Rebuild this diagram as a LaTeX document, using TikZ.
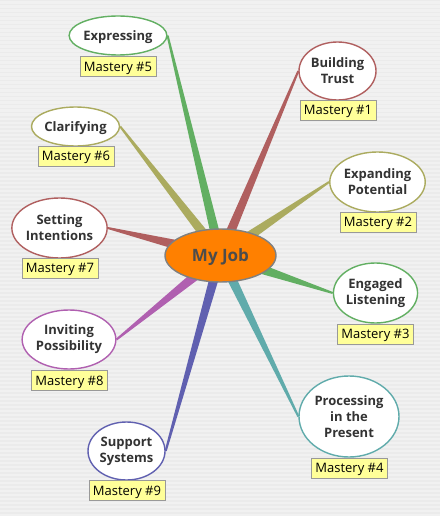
\documentclass[tikz,border=0pt]{standalone}
\usepackage{fontspec}
\setmainfont{Open Sans}
\usetikzlibrary{shapes.geometric,calc}
\definecolor{cRed}{HTML}{B05F5F}
\definecolor{cOlive}{HTML}{ABAB5F}
\definecolor{cGreen}{HTML}{62AF62}
\definecolor{cTeal}{HTML}{60ABAB}
\definecolor{cBlue}{HTML}{6060B0}
\definecolor{cPurple}{HTML}{B060B0}
\definecolor{cOrange}{HTML}{FF8000}
\definecolor{bgA}{HTML}{F1F1F1}
\definecolor{bgB}{HTML}{EBEBEB}
\definecolor{tagFill}{HTML}{FFFF99}
\pgfdeclarelayer{bg}
\pgfsetlayers{bg,main}
\tikzset{
  topic/.style={ellipse, draw=#1, line width=1.4pt, fill=white, inner sep=0pt,
    align=center, text=black!80, font=\fontsize{13}{16}\selectfont\bfseries},
  oneline/.style={text height=9.3pt, text depth=0pt},
  hub/.style={ellipse, draw=black!50, line width=1.4pt, fill=cOrange, inner sep=0pt,
    minimum width=111pt, minimum height=53pt, text=black!70,
    text height=12pt, text depth=0pt,
    font=\fontsize{17}{20}\selectfont\bfseries},
  tag/.style={rectangle, draw=black!40, line width=0.8pt, fill=tagFill, inner sep=0pt,
    minimum width=76pt, minimum height=20pt, text=black,
    text height=9.3pt, text depth=0pt,
    font=\fontsize{13}{15}\selectfont},
}
\begin{document}
\begin{tikzpicture}[x=1pt,y=-1pt]
\begin{pgfonlayer}{bg}
  \fill[bgA] (0,0) rectangle (440,516);
  \foreach \k in {0,4,...,512} \fill[bgB] (0,\k) rectangle (440,\k+1.5);
\end{pgfonlayer}
\useasboundingbox (0,0) rectangle (440,516);

\node[hub] (j) at (220.5,255.5) {My Job};

\node[topic=cRed, minimum width=77pt, minimum height=58pt] (c1) at (337.5,71) {Building\\Trust};
\node[tag] (t1) at (338,110) {Mastery \#1};
\node[topic=cOlive, minimum width=91pt, minimum height=60pt] (c2) at (377.5,182) {Expanding\\Potential};
\node[tag] (t2) at (378,222) {Mastery \#2};
\node[topic=cGreen, minimum width=83pt, minimum height=60pt] (c3) at (375.5,293) {Engaged\\Listening};
\node[tag] (t3) at (375.5,334) {Mastery \#3};
\node[topic=cTeal, minimum width=100pt, minimum height=81pt] (c4) at (349,416.5) {Processing\\in the\\Present};
\node[tag] (t4) at (349.5,468) {Mastery \#4};
\node[topic=cGreen, oneline, minimum width=96pt, minimum height=39pt] (c5) at (118,35.5) {Expressing};
\node[tag] (t5) at (118,66.5) {Mastery \#5};
\node[topic=cOlive, oneline, minimum width=87pt, minimum height=39pt] (c6) at (75.5,126.5) {Clarifying};
\node[tag] (t6) at (76,156) {Mastery \#6};
\node[topic=cRed, minimum width=89pt, minimum height=60pt] (c7) at (59.5,228) {Setting\\Intentions};
\node[tag] (t7) at (60,268) {Mastery \#7};
\node[topic=cPurple, minimum width=92pt, minimum height=59pt] (c8) at (69,339.5) {Inviting\\Possibility};
\node[tag] (t8) at (69.5,380.5) {Mastery \#8};
\node[topic=cBlue, minimum width=77pt, minimum height=58pt] (c9) at (126.5,451) {Support\\Systems};
\node[tag] (t9) at (127,490.5) {Mastery \#9};

\begin{pgfonlayer}{bg}
\foreach \c/\a/\col in {c1/west/cRed, c2/west/cOlive, c3/west/cGreen, c4/west/cTeal,
  c5/east/cGreen, c6/east/cOlive, c7/east/cRed, c8/east/cPurple, c9/east/cBlue} {
  \path (j) -- (\c.\a) coordinate[pos=0] (A0) coordinate[pos=1] (B);
  \coordinate (A) at ($(A0)!-5pt!(B)$);
  \fill[\col] ($(A)!4.6pt!90:(B)$) -- ($(B)!1pt!-90:(A)$) -- ($(B)!1pt!90:(A)$)
     -- ($(A)!4.6pt!-90:(B)$) -- cycle;
}
\end{pgfonlayer}
\end{tikzpicture}
\end{document}
